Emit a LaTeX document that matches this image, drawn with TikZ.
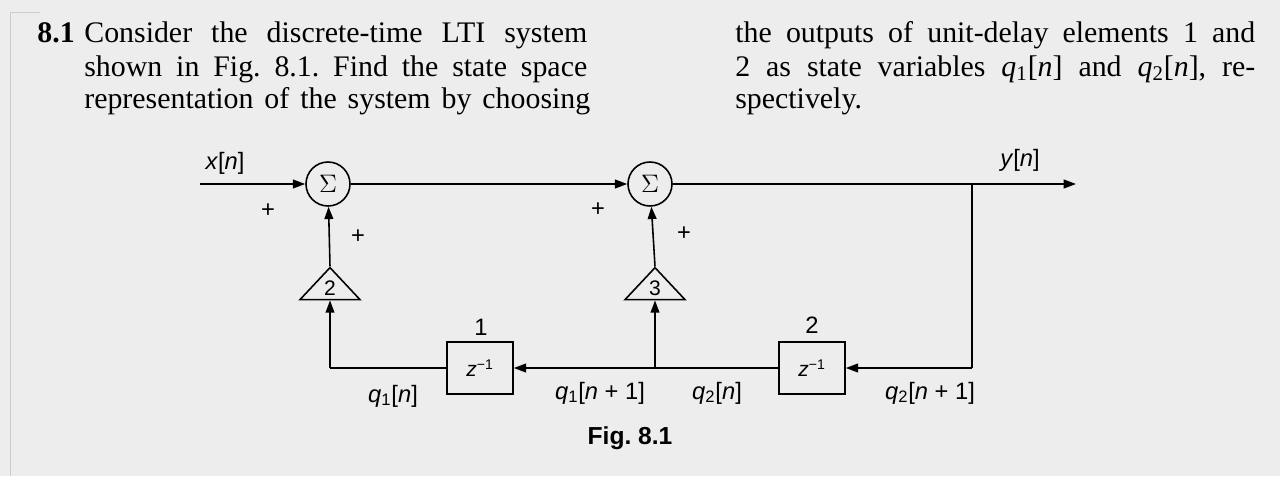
\documentclass[tikz,border=0pt]{standalone}
\usepackage{fontspec}
\setmainfont{Liberation Serif}
\newfontfamily\lsans{Liberation Sans}
\usetikzlibrary{arrows.meta,shapes.geometric}
\frenchspacing
\begin{document}
\begin{tikzpicture}[x=0.02cm,y=-0.02cm,
  sumnode/.style={circle,draw,line width=0.9pt,minimum size=0.88cm,inner sep=0pt,font=\Large},
  gain/.style={isosceles triangle,isosceles triangle apex angle=86,isosceles triangle stretches,shape border rotate=90,draw,line width=0.9pt,minimum height=0.64cm,minimum width=1.2cm,inner sep=0.5pt,font=\lsans\large},
  delay/.style={draw,line width=0.9pt,minimum width=1.32cm,minimum height=1.04cm,font=\lsans\large},
  lbl/.style={font=\lsans\fontsize{13.5}{16}\selectfont},
  txt/.style={anchor=base west,inner sep=0pt,font=\fontsize{17}{20}\selectfont},
  sig/.style={line width=0.9pt,-{Triangle[length=7pt,width=5pt]}},
  wire/.style={line width=0.9pt}]
\fill[gray!14] (0,0) rectangle (1280,476);
\draw[gray!40] (10,476) -- (10,12) -- (40,12);
% text
\node[txt] (n81) at (37,43) {\textbf{8.1}};
\node[txt] (l1) at (84,43) {\makebox[10.06cm][s]{Consider the discrete-time LTI system}};
\node[txt] (l2) at (84,76) {\makebox[10.06cm][s]{shown in Fig. 8.1. Find the state space}};
\node[txt] (l3) at (84,109) {\makebox[10.12cm][s]{representation of the system by choosing}};
\node[txt] (r1) at (735,43) {\makebox[10.4cm][s]{the outputs of unit-delay elements 1 and}};
\node[txt] (r2) at (735,76) {\makebox[10.4cm][s]{2 as state variables \textit{q}\textsubscript{1}[\textit{n}] and \textit{q}\textsubscript{2}[\textit{n}], re-}};
\node[txt] (r3) at (735,109) {spectively.};
% diagram
\node[sumnode] (s1) at (328,184) {$\Sigma$};
\node[sumnode] (s2) at (650,184) {$\Sigma$};
\node[gain] (g2) at (330,288) {2};
\node[gain] (g3) at (655,288) {3};
\node[delay] (d1) at (480,368) {\textit{z}\textsuperscript{−1}};
\node[delay] (d2) at (812,368) {\textit{z}\textsuperscript{−1}};
\coordinate (xin) at (200,184);
\coordinate (yout) at (1076,184);
\coordinate (jy) at (972,184);
\coordinate (jyb) at (972,368);
\coordinate (j3) at (655,368);
\coordinate (c1) at (330,368);
\draw[sig] (xin) -- (s1);
\draw[sig] (s1) -- (s2);
\draw[sig] (s2) -- (yout);
\draw[wire] (jy) -- (jyb);
\draw[sig] (jyb) -- (d2);
\draw[sig] (d2) -- (d1);
\draw[sig] (j3) -- (g3.south);
\draw[sig] (g3.apex) -- (s2);
\draw[wire] (d1) -- (c1);
\draw[sig] (c1) -- (g2.south);
\draw[sig] (g2.apex) -- (s1);
\node[lbl] (xl) at (225,163) {\textit{x}[\textit{n}]};
\node[lbl] (yl) at (1020,160) {\textit{y}[\textit{n}]};
\node[lbl] (p1) at (268,211) {+};
\node[lbl] (p2) at (358,237) {+};
\node[lbl] (p3) at (598,210) {+};
\node[lbl] (p4) at (684,234) {+};
\node[lbl] (o1) at (481,327) {1};
\node[lbl] (o2) at (812,325) {2};
\node[lbl] (q1) at (393,396) {\textit{q}\textsubscript{1}[\textit{n}]};
\node[lbl] (q1b) at (600,393) {\textit{q}\textsubscript{1}[\textit{n} + 1]};
\node[lbl] (q2) at (717,393) {\textit{q}\textsubscript{2}[\textit{n}]};
\node[lbl] (q2b) at (930,393) {\textit{q}\textsubscript{2}[\textit{n} + 1]};
\node[font=\lsans\bfseries\fontsize{14}{16}\selectfont] (fig) at (630,438) {Fig. 8.1};
\end{tikzpicture}
\end{document}
